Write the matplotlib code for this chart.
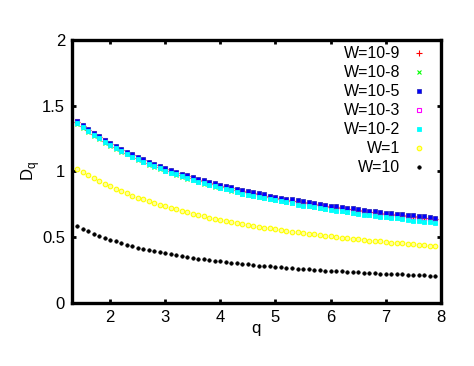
'''
Generalized dimension D_q against q for several values of W.
'''

import numpy as np
from matplotlib import pyplot as plt

plt.rcParams['font.family'] = ['Liberation Sans', 'DejaVu Sans']

######################

q = [1.4, 1.5, 1.6, 1.7, 1.8, 1.9, 2.0, 2.1, 2.2, 2.3,
     2.4, 2.5, 2.6, 2.7, 2.8, 2.9, 3.0, 3.1, 3.2, 3.3,
     3.4, 3.5, 3.6, 3.7, 3.8, 3.9, 4.0, 4.1, 4.2, 4.3,
     4.4, 4.5, 4.6, 4.7, 4.8, 4.9, 5.0, 5.1, 5.2, 5.3,
     5.4, 5.5, 5.6, 5.7, 5.8, 5.9, 6.0, 6.1, 6.2, 6.3,
     6.4, 6.5, 6.6, 6.7, 6.8, 6.9, 7.0, 7.1, 7.2, 7.3,
     7.4, 7.5, 7.6, 7.7, 7.8, 7.9]

# W = 1e-9
d_w9 = [1.378, 1.346, 1.315, 1.287, 1.260, 1.234, 1.210, 1.186, 1.164, 1.143,
        1.123, 1.104, 1.085, 1.067, 1.051, 1.035, 1.019, 1.004, 0.990, 0.976,
        0.963, 0.950, 0.937, 0.925, 0.914, 0.903, 0.892, 0.882, 0.872, 0.862,
        0.852, 0.843, 0.834, 0.826, 0.817, 0.809, 0.801, 0.794, 0.786, 0.779,
        0.772, 0.765, 0.758, 0.752, 0.745, 0.739, 0.733, 0.727, 0.722, 0.716,
        0.711, 0.705, 0.700, 0.695, 0.690, 0.685, 0.680, 0.676, 0.671, 0.667,
        0.662, 0.658, 0.654, 0.650, 0.646, 0.642]

# W = 1e-8
d_w8 = [1.364, 1.332, 1.301, 1.273, 1.246, 1.220, 1.196, 1.172, 1.150, 1.129,
        1.107, 1.088, 1.069, 1.051, 1.035, 1.019, 1.003, 0.988, 0.974, 0.960,
        0.945, 0.932, 0.919, 0.907, 0.896, 0.885, 0.874, 0.864, 0.854, 0.844,
        0.832, 0.823, 0.814, 0.806, 0.797, 0.789, 0.781, 0.774, 0.766, 0.759,
        0.750, 0.743, 0.736, 0.730, 0.723, 0.717, 0.711, 0.705, 0.700, 0.694,
        0.687, 0.681, 0.676, 0.671, 0.666, 0.661, 0.656, 0.652, 0.647, 0.643,
        0.636, 0.632, 0.628, 0.624, 0.620, 0.616]

# W = 1e-5
d_w5 = [1.386, 1.354, 1.323, 1.295, 1.268, 1.242, 1.218, 1.194, 1.172, 1.151,
        1.131, 1.112, 1.093, 1.075, 1.059, 1.043, 1.027, 1.012, 0.998, 0.984,
        0.971, 0.958, 0.945, 0.933, 0.922, 0.911, 0.900, 0.890, 0.880, 0.870,
        0.860, 0.851, 0.842, 0.834, 0.825, 0.817, 0.809, 0.802, 0.794, 0.787,
        0.780, 0.773, 0.766, 0.760, 0.753, 0.747, 0.741, 0.735, 0.730, 0.724,
        0.719, 0.713, 0.708, 0.703, 0.698, 0.693, 0.688, 0.684, 0.679, 0.675,
        0.670, 0.666, 0.662, 0.658, 0.654, 0.650]

# W = 1e-3
d_w3 = [1.380, 1.348, 1.317, 1.289, 1.262, 1.236, 1.211, 1.187, 1.165, 1.144,
        1.124, 1.105, 1.086, 1.068, 1.051, 1.035, 1.019, 1.004, 0.990, 0.976,
        0.962, 0.949, 0.936, 0.924, 0.913, 0.902, 0.890, 0.880, 0.870, 0.860,
        0.850, 0.841, 0.832, 0.824, 0.815, 0.807, 0.798, 0.791, 0.783, 0.776,
        0.769, 0.762, 0.755, 0.749, 0.742, 0.736, 0.730, 0.724, 0.719, 0.713,
        0.708, 0.702, 0.697, 0.692, 0.687, 0.682, 0.676, 0.672, 0.667, 0.663,
        0.658, 0.654, 0.650, 0.646, 0.642, 0.638]

# W = 1e-2
d_w2 = [1.371, 1.339, 1.308, 1.280, 1.253, 1.227, 1.203, 1.179, 1.157, 1.136,
        1.111, 1.092, 1.073, 1.055, 1.039, 1.023, 1.007, 0.992, 0.978, 0.964,
        0.947, 0.934, 0.921, 0.909, 0.898, 0.887, 0.876, 0.866, 0.856, 0.846,
        0.832, 0.823, 0.814, 0.806, 0.797, 0.789, 0.781, 0.774, 0.766, 0.759,
        0.748, 0.741, 0.734, 0.728, 0.721, 0.715, 0.709, 0.703, 0.698, 0.692,
        0.683, 0.677, 0.672, 0.667, 0.662, 0.657, 0.652, 0.648, 0.643, 0.639,
        0.630, 0.626, 0.622, 0.618, 0.614, 0.610]

# W = 1
d_w1 = [1.020, 0.995, 0.970, 0.948, 0.926, 0.905, 0.886, 0.867, 0.850, 0.833,
        0.817, 0.802, 0.787, 0.773, 0.759, 0.746, 0.734, 0.722, 0.711, 0.700,
        0.689, 0.679, 0.669, 0.659, 0.650, 0.641, 0.633, 0.624, 0.616, 0.609,
        0.601, 0.594, 0.587, 0.580, 0.573, 0.567, 0.560, 0.554, 0.548, 0.542,
        0.537, 0.531, 0.526, 0.521, 0.516, 0.511, 0.506, 0.501, 0.497, 0.492,
        0.488, 0.484, 0.480, 0.475, 0.472, 0.468, 0.464, 0.460, 0.456, 0.453,
        0.449, 0.446, 0.443, 0.439, 0.436, 0.433]

# W = 10
d_w10 = [0.585, 0.564, 0.545, 0.527, 0.511, 0.496, 0.481, 0.468, 0.455, 0.444,
         0.433, 0.422, 0.412, 0.403, 0.394, 0.386, 0.378, 0.370, 0.363, 0.356,
         0.350, 0.343, 0.337, 0.331, 0.326, 0.321, 0.316, 0.311, 0.306, 0.302,
         0.297, 0.293, 0.289, 0.285, 0.281, 0.278, 0.274, 0.271, 0.267, 0.264,
         0.261, 0.258, 0.255, 0.253, 0.250, 0.247, 0.245, 0.242, 0.240, 0.237,
         0.235, 0.233, 0.231, 0.228, 0.226, 0.224, 0.222, 0.220, 0.219, 0.217,
         0.215, 0.213, 0.212, 0.210, 0.208, 0.207]

fig = plt.figure(figsize=(4.74, 3.66), dpi=100)
ax = fig.add_axes([0.152, 0.172, 0.778, 0.719])

ms = 3.3
ax.plot(q, d_w9, ls='none', marker='+', ms=ms+0.7, mew=0.8, c='#ff0000', label='W=10-9')
ax.plot(q, d_w8, ls='none', marker='x', ms=ms, mew=0.8, c='#00ff00', label='W=10-8')
ax.plot(q, d_w3, ls='none', marker='s', ms=ms, mew=0.8, mfc='none', c='#ff00ff', label='W=10-3')
ax.plot(q, d_w5, ls='none', marker='s', ms=ms, mew=0.6, mfc='#0000ff', mec='#3030c0', label='W=10-5')
ax.plot(q, d_w2, ls='none', marker='s', ms=ms, mew=0.6, c='#00ffff', label='W=10-2')
ax.plot(q, d_w1, ls='none', marker='o', ms=ms, mew=0.8, mfc='#ffffa0', mec='#ffff00', label='W=1')
ax.plot(q, d_w10, ls='none', marker='o', ms=ms-0.8, mew=0.5, c='#000000', label='W=10')

ax.set_xlim(1.31, 8)
ax.set_ylim(0, 2)
ax.set_xticks([2, 3, 4, 5, 6, 7, 8])
ax.set_yticks([0, 0.5, 1, 1.5, 2])
ax.set_yticklabels(['0', '0.5', '1', '1.5', '2'])

for s in ax.spines.values():
    s.set_linewidth(2.4)
ax.tick_params(direction='in', length=3, width=2, labelsize=12, pad=5,
               top=True, right=True)

ax.set_xlabel('q', fontsize=12, labelpad=-3)
ax.set_ylabel('D$_\\mathregular{q}$', fontsize=12, labelpad=0)

# keep the legend in the original W order
handles, labels = ax.get_legend_handles_labels()
order = ['W=10-9', 'W=10-8', 'W=10-5', 'W=10-3', 'W=10-2', 'W=1', 'W=10']
pairs = dict(zip(labels, handles))
ax.legend([pairs[k] for k in order], order, loc='upper right', frameon=False,
          markerfirst=False, fontsize=11.5, labelspacing=0.25,
          handlelength=1.2, handletextpad=0.6,
          borderaxespad=0.0, bbox_to_anchor=(0.985, 1.0))

plt.savefig('out.png', dpi=100)
